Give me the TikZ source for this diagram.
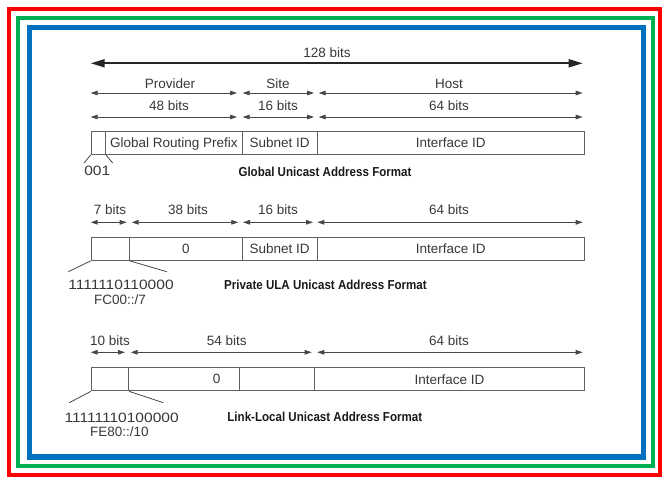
\documentclass[tikz,border=0pt]{standalone}
\usepackage{fontspec}
\setmainfont{Liberation Sans}
\usetikzlibrary{arrows.meta}
\definecolor{FrameRed}{RGB}{255,0,0}
\definecolor{FrameGreen}{RGB}{0,176,80}
\definecolor{FrameBlue}{RGB}{0,112,192}
\newcommand{\captext}[1]{\scalebox{0.89}[1]{#1}}
\newcommand{\bintext}[1]{\scalebox{1.15}[1]{#1}}
\begin{document}
\begin{tikzpicture}
[
x=1pt, y=-1pt,
every node/.style={inner sep=0pt, text=black!78, font=\fontsize{13.5}{16}\selectfont, text height=9.6pt, text depth=0pt},
Caption/.style={text=black!90, font=\bfseries\fontsize{13}{15}\selectfont, text height=9.3pt},
Field/.style={draw=black!62, line width=0.9pt},
Leader/.style={draw=black!72, line width=0.8pt},
Span/.style={{Triangle[length=7pt,width=4.6pt]}-{Triangle[length=7pt,width=4.6pt]}, draw=black!72, line width=0.8pt},
Bigspan/.style={{Triangle[length=14pt,width=8pt]}-{Triangle[length=14pt,width=8pt]}, draw=black!85, line width=1.8pt},
Frame/.style={line width=4pt}
]

\useasboundingbox (0,0) rectangle (667,486);

% frames
\draw[Frame, draw=FrameRed]   (9,9) rectangle (660,475);
\draw[Frame, draw=FrameGreen] (18,18) rectangle (652.5,466);
\draw[Frame, draw=FrameBlue, line width=5.5pt] (29.5,27.5) rectangle (643.5,457);

% global unicast
\draw[Bigspan] (90.7,63.3) -- (582.7,63.3);
\node (total) at (327,53) {128 bits};

\node (provider) at (170,84) {Provider};
\node (site)     at (278,84) {Site};
\node (host)     at (449,84) {Host};
\draw[Span] (90.7,93) -- (237,93);
\draw[Span] (242.7,93) -- (314,93);
\draw[Span] (318.7,93) -- (582.7,93);

\node (gbits1) at (169,106) {48 bits};
\node (gbits2) at (278,106) {16 bits};
\node (gbits3) at (449,106) {64 bits};
\draw[Span] (90.7,117) -- (237,117);
\draw[Span] (242.7,117) -- (314,117);
\draw[Span] (318.7,117) -- (582.7,117);

\node[Field, anchor=north west, minimum width=14.3pt, minimum height=23pt]  (gf1) at (90.7,131) {};
\node[Field, anchor=north west, minimum width=136.7pt, minimum height=23pt] (gf2) at (105,131) {Global Routing Prefix};
\node[Field, anchor=north west, minimum width=74.8pt, minimum height=23pt]  (gf3) at (241.7,131) {Subnet ID};
\node[Field, anchor=north west, minimum width=267.5pt, minimum height=23pt] (gf4) at (316.5,131) {Interface ID};

\node (gpre) at (97.3,171) {\bintext{001}};
\coordinate (gl1) at (84,163);
\coordinate (gl2) at (112.7,163);
\draw[Leader] (gf1.south west) -- (gl1);
\draw[Leader] (gf1.south east) -- (gl2);
\node[Caption] (gcap) at (325,171.5) {\captext{Global Unicast Address Format}};

% private ula
\node (ubits1) at (110,210) {7 bits};
\node (ubits2) at (188,210) {38 bits};
\node (ubits3) at (278,210) {16 bits};
\node (ubits4) at (449,210) {64 bits};
\draw[Span] (90.7,222.3) -- (126.7,222.3);
\draw[Span] (131.7,222.3) -- (238.3,222.3);
\draw[Span] (243,222.3) -- (313,222.3);
\draw[Span] (317.3,222.3) -- (582.7,222.3);

\node[Field, anchor=north west, minimum width=38.3pt, minimum height=23.3pt]  (uf1) at (90.7,236.7) {};
\node[Field, anchor=north west, minimum width=112.7pt, minimum height=23.3pt] (uf2) at (129,236.7) {0};
\node[Field, anchor=north west, minimum width=75pt, minimum height=23.3pt]    (uf3) at (241.7,236.7) {Subnet ID};
\node[Field, anchor=north west, minimum width=267.3pt, minimum height=23.3pt] (uf4) at (316.7,236.7) {Interface ID};

\node (upre)  at (121,284.3) {\bintext{1111110110000}};
\node (uhex)  at (120,300) {FC00::/7};
\coordinate (ul1) at (68.3,271.7);
\coordinate (ul2) at (166.7,271.7);
\draw[Leader] (uf1.south west) -- (ul1);
\draw[Leader] (uf1.south east) -- (ul2);
\node[Caption] (ucap) at (325.5,285) {\captext{Private ULA Unicast Address Format}};

% link-local
\node (lbits1) at (110,340.7) {10 bits};
\node (lbits2) at (226.7,340.7) {54 bits};
\node (lbits3) at (449,340.7) {64 bits};
\draw[Span] (90.7,352.3) -- (125,352.3);
\draw[Span] (130.7,352.3) -- (311.7,352.3);
\draw[Span] (317.3,352.3) -- (582.7,352.3);

\node[Field, anchor=north west, minimum width=37.6pt, minimum height=23.2pt]  (lf1) at (90.7,367.3) {};
\node[Field, anchor=north west, minimum width=110.7pt, minimum height=23.2pt] (lf2) at (128.3,367.3) {};
\node[Field, anchor=north west, minimum width=75.3pt, minimum height=23.2pt]  (lf3) at (239,367.3) {};
\node[Field, anchor=north west, minimum width=269.7pt, minimum height=23.2pt] (lf4) at (314.3,367.3) {Interface ID};
\node (lzero) at (216.7,378.9) {0};

\node (lpre)  at (121.7,417.3) {\bintext{11111110100000}};
\node (lhex)  at (119.3,431.7) {FE80::/10};
\coordinate (ll1) at (69.3,402.7);
\coordinate (ll2) at (163.3,402.7);
\draw[Leader] (lf1.south west) -- (ll1);
\draw[Leader] (lf1.south east) -- (ll2);
\node[Caption] (lcap) at (324.8,417.3) {\captext{Link-Local Unicast Address Format}};
\end{tikzpicture}
\end{document}
